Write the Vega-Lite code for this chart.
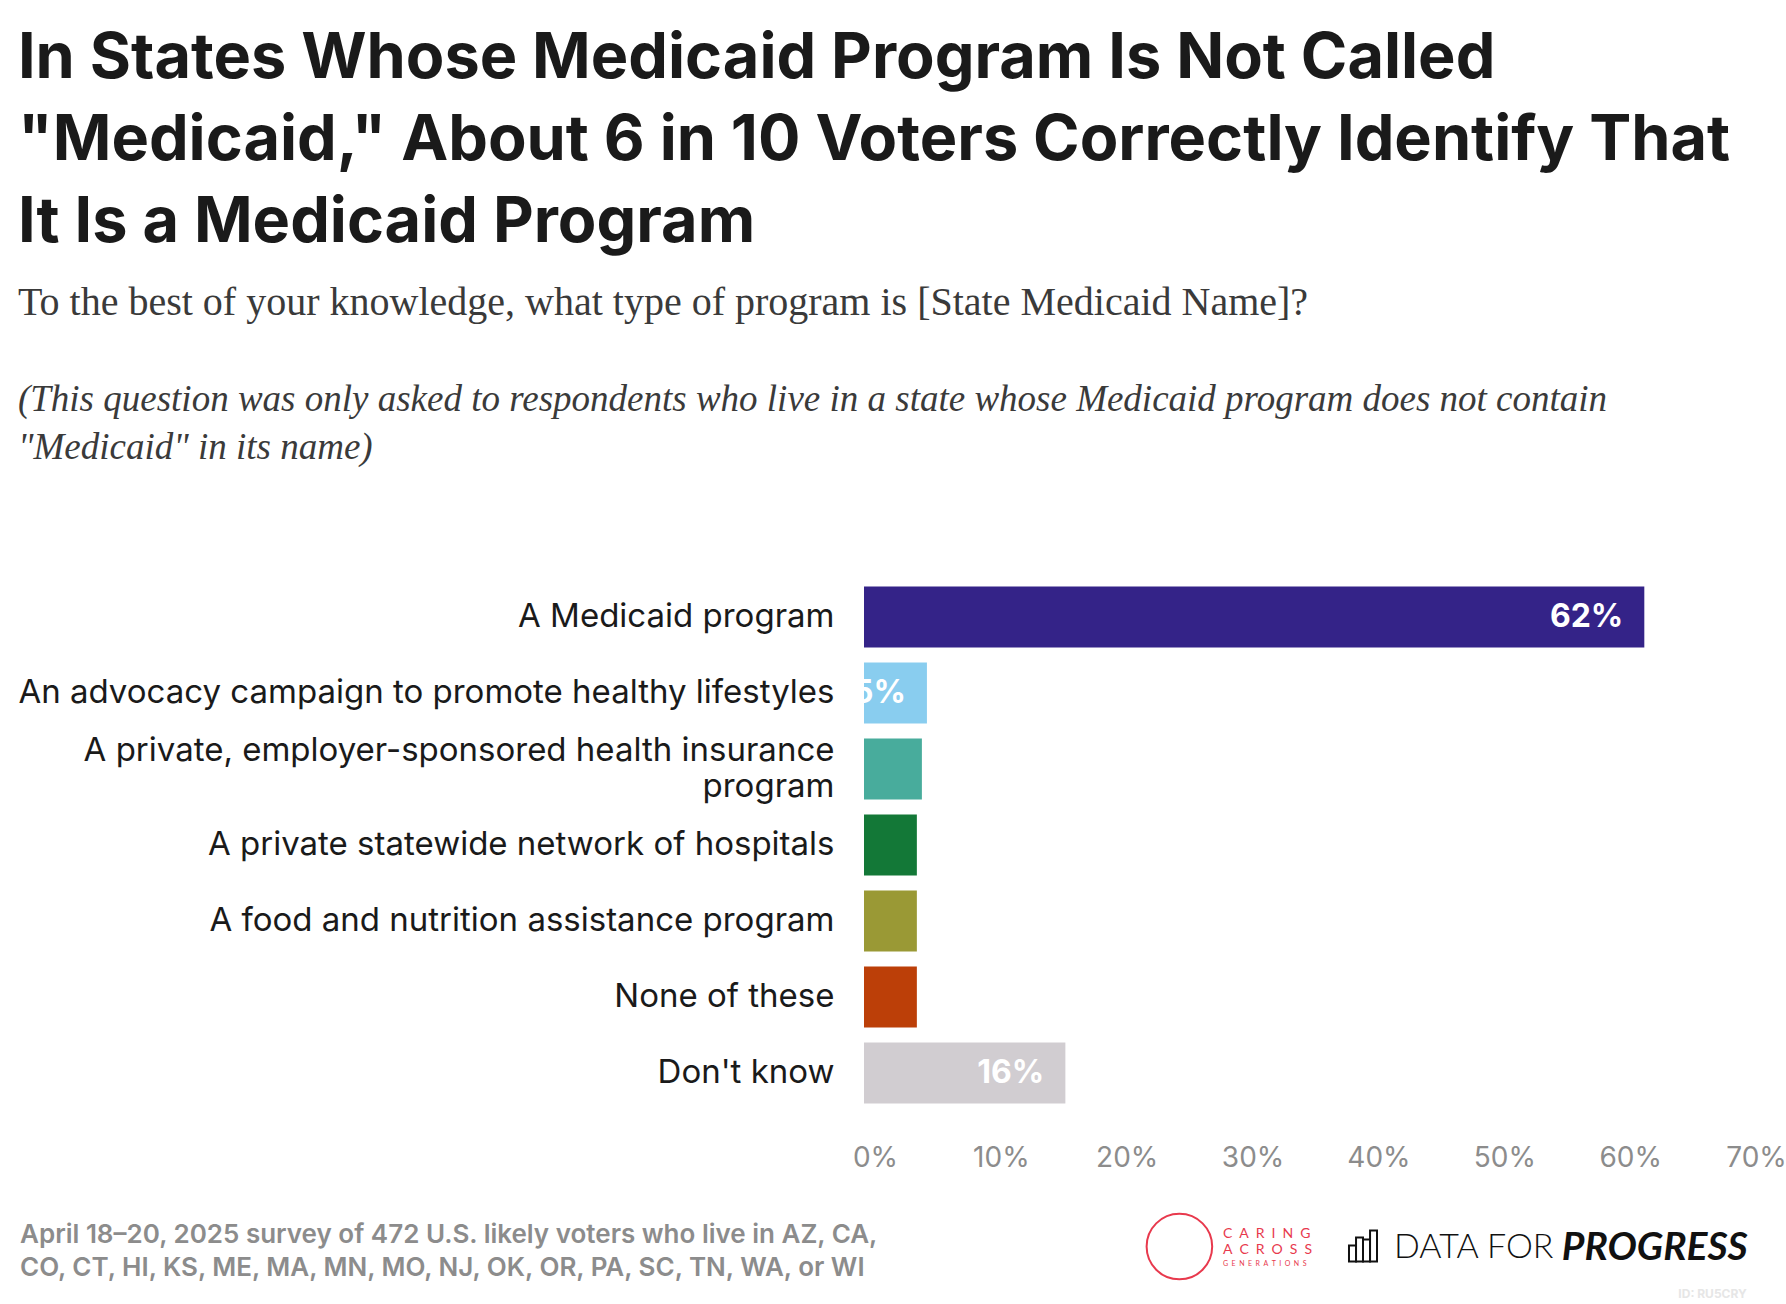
{
  "$schema": "https://vega.github.io/schema/vega-lite/v6.json",
  "background": "white",
  "padding": {"left": 17, "top": 28, "right": 0, "bottom": 0},
  "title": {
    "text": [
      "In States Whose Medicaid Program Is Not Called",
      "\"Medicaid,\" About 6 in 10 Voters Correctly Identify That",
      "It Is a Medicaid Program"
    ],
    "subtitle": "To the best of your knowledge, what type of program is [State Medicaid Name]?",
    "anchor": "start",
    "frame": "bounds",
    "font": "Inter",
    "fontSize": 63,
    "fontWeight": 700,
    "lineHeight": 82,
    "color": "#1a1a1a",
    "subtitleFont": "Liberation Serif",
    "subtitleFontSize": 40,
    "subtitleColor": "#3a3a3a",
    "subtitlePadding": 28,
    "offset": 58
  },
  "spacing": 0,
  "vconcat": [
    {
      "title": {
        "text": [
          "(This question was only asked to respondents who live in a state whose Medicaid program does not contain",
          "\"Medicaid\" in its name)"
        ],
        "anchor": "start",
        "frame": "bounds",
        "font": "Liberation Serif",
        "fontStyle": "italic",
        "fontWeight": "normal",
        "fontSize": 37,
        "lineHeight": 48,
        "color": "#3a3a3a",
        "offset": 112
      },
      "width": 881,
      "height": 532,
      "data": {
        "values": [
          {"answer": "A Medicaid program", "share": 0.62},
          {"answer": "An advocacy campaign to promote healthy lifestyles", "share": 0.05},
          {"answer": "A private, employer-sponsored health insurance program", "share": 0.046},
          {"answer": "A private statewide network of hospitals", "share": 0.042},
          {"answer": "A food and nutrition assistance program", "share": 0.042},
          {"answer": "None of these", "share": 0.042},
          {"answer": "Don't know", "share": 0.16}
        ]
      },
      "encoding": {
        "y": {
          "field": "answer",
          "type": "nominal",
          "sort": null,
          "scale": {"paddingInner": 0.196, "paddingOuter": 0.098},
          "axis": {
            "title": null,
            "ticks": false,
            "domain": false,
            "labelFont": "Inter",
            "labelFontSize": 33,
            "labelColor": "#1a1a1a",
            "labelPadding": 30,
            "labelLimit": 1200,
            "labelLineHeight": 36,
            "labelOffset": {
              "condition": {"test": "datum.value == 'A private, employer-sponsored health insurance program'", "value": -18},
              "value": 0
            },
            "labelExpr": "datum.value == 'A private, employer-sponsored health insurance program' ? ['A private, employer-sponsored health insurance', 'program'] : datum.label"
          }
        },
        "x": {
          "field": "share",
          "type": "quantitative",
          "scale": {"domain": [0, 0.7]},
          "axis": {
            "title": null,
            "format": ".0%",
            "values": [0, 0.1, 0.2, 0.3, 0.4, 0.5, 0.6, 0.7],
            "grid": false,
            "ticks": false,
            "domain": false,
            "labelFlush": false,
            "labelFont": "Inter",
            "labelFontSize": 28,
            "labelColor": "#8c8c8c",
            "labelPadding": 33,
            "labelOffset": 11
          }
        }
      },
      "layer": [
        {
          "mark": {"type": "bar"},
          "encoding": {
            "color": {
              "field": "answer",
              "type": "nominal",
              "legend": null,
              "scale": {
                "domain": [
                  "A Medicaid program",
                  "An advocacy campaign to promote healthy lifestyles",
                  "A private, employer-sponsored health insurance program",
                  "A private statewide network of hospitals",
                  "A food and nutrition assistance program",
                  "None of these",
                  "Don't know"
                ],
                "range": ["#342388", "#89CDEF", "#48AC9C", "#137837", "#9A9935", "#BC3F08", "#D1CDD1"]
              }
            }
          }
        },
        {
          "transform": [{"filter": "datum.share >= 0.05"}],
          "mark": {
            "type": "text",
            "align": "right",
            "baseline": "middle",
            "dx": -21,
            "color": "white",
            "font": "Inter",
            "fontWeight": "bold",
            "fontSize": 32
          },
          "encoding": {
            "text": {"field": "share", "type": "quantitative", "format": ".0%"}
          }
        }
      ]
    },
    {
      "width": 881,
      "height": 132,
      "data": {"values": [{"source": "Data for Progress"}]},
      "encoding": {
        "x": {"datum": 0, "type": "quantitative", "scale": {"domain": [0, 100]}, "axis": null},
        "y": {"datum": 0, "type": "quantitative", "scale": {"domain": [0, 100], "reverse": true}, "axis": null}
      },
      "layer": [
        {
          "mark": {
            "type": "text",
            "align": "left",
            "baseline": "middle",
            "font": "Inter",
            "fontWeight": 600,
            "fontSize": 26,
            "lineHeight": 33,
            "color": "#8c8c8c",
            "text": [
              "April 18–20, 2025 survey of 472 U.S. likely voters who live in AZ, CA,",
              "CO, CT, HI, KS, ME, MA, MN, MO, NJ, OK, OR, PA, SC, TN, WA, or WI"
            ]
          },
          "encoding": {
            "x": {"datum": -95.8, "type": "quantitative"},
            "y": {"datum": 47.4, "type": "quantitative"}
          }
        },
        {
          "mark": {"type": "point", "shape": "circle", "filled": false, "size": 4300, "stroke": "#E8394D", "strokeWidth": 2, "opacity": 1},
          "encoding": {
            "x": {"datum": 35.8, "type": "quantitative"},
            "y": {"datum": 56.5, "type": "quantitative"}
          }
        },
        {
          "mark": {"type": "text", "align": "left", "baseline": "middle", "font": "Lato", "fontSize": 14, "color": "#E8394D", "text": "C\u2002A\u2002R\u2002I\u2002N\u2002G"},
          "encoding": {
            "x": {"datum": 40.75, "type": "quantitative"},
            "y": {"datum": 46.6, "type": "quantitative"}
          }
        },
        {
          "mark": {"type": "text", "align": "left", "baseline": "middle", "font": "Lato", "fontSize": 14, "color": "#E8394D", "text": "A\u2002C\u2002R\u2002O\u2002S\u2002S"},
          "encoding": {
            "x": {"datum": 40.75, "type": "quantitative"},
            "y": {"datum": 58.8, "type": "quantitative"}
          }
        },
        {
          "mark": {"type": "text", "align": "left", "baseline": "middle", "font": "Lato", "fontSize": 7, "color": "#E8394D", "text": "G\u2002E\u2002N\u2002E\u2002R\u2002A\u2002T\u2002I\u2002O\u2002N\u2002S"},
          "encoding": {
            "x": {"datum": 40.75, "type": "quantitative"},
            "y": {"datum": 69.4, "type": "quantitative"}
          }
        },
        {
          "mark": {"type": "rect", "fill": "white", "stroke": "#111111", "strokeWidth": 2},
          "encoding": {
            "x": {"datum": 55.05, "type": "quantitative"},
            "x2": {"datum": 55.85},
            "y": {"datum": 55.7, "type": "quantitative"},
            "y2": {"datum": 67.85}
          }
        },
        {
          "mark": {"type": "rect", "fill": "white", "stroke": "#111111", "strokeWidth": 2},
          "encoding": {
            "x": {"datum": 55.85, "type": "quantitative"},
            "x2": {"datum": 56.64},
            "y": {"datum": 49.7, "type": "quantitative"},
            "y2": {"datum": 67.85}
          }
        },
        {
          "mark": {"type": "rect", "fill": "white", "stroke": "#111111", "strokeWidth": 2},
          "encoding": {
            "x": {"datum": 56.64, "type": "quantitative"},
            "x2": {"datum": 57.44},
            "y": {"datum": 51.2, "type": "quantitative"},
            "y2": {"datum": 67.85}
          }
        },
        {
          "mark": {"type": "rect", "fill": "white", "stroke": "#111111", "strokeWidth": 2},
          "encoding": {
            "x": {"datum": 57.44, "type": "quantitative"},
            "x2": {"datum": 58.23},
            "y": {"datum": 44.4, "type": "quantitative"},
            "y2": {"datum": 67.85}
          }
        },
        {
          "mark": {"type": "text", "align": "left", "baseline": "middle", "font": "Lato", "fontWeight": 300, "fontSize": 34, "color": "#111111", "text": "DATA FOR"},
          "encoding": {
            "x": {"datum": 60.16, "type": "quantitative"},
            "y": {"datum": 57.2, "type": "quantitative"}
          }
        },
        {
          "mark": {"type": "text", "align": "left", "baseline": "middle", "font": "Lato", "fontWeight": "bold", "fontStyle": "italic", "fontSize": 39, "color": "#111111", "text": "PROGRESS"},
          "encoding": {
            "x": {"datum": 79.2, "type": "quantitative"},
            "y": {"datum": 57.2, "type": "quantitative"}
          }
        },
        {
          "mark": {"type": "text", "align": "right", "baseline": "middle", "font": "Inter", "fontWeight": "bold", "fontSize": 12, "color": "#e6e6e6", "text": "ID: RU5CRY"},
          "encoding": {
            "x": {"datum": 100.2, "type": "quantitative"},
            "y": {"datum": 92.1, "type": "quantitative"}
          }
        }
      ]
    }
  ],
  "config": {
    "view": {"stroke": null},
    "axis": {"grid": false}
  }
}
